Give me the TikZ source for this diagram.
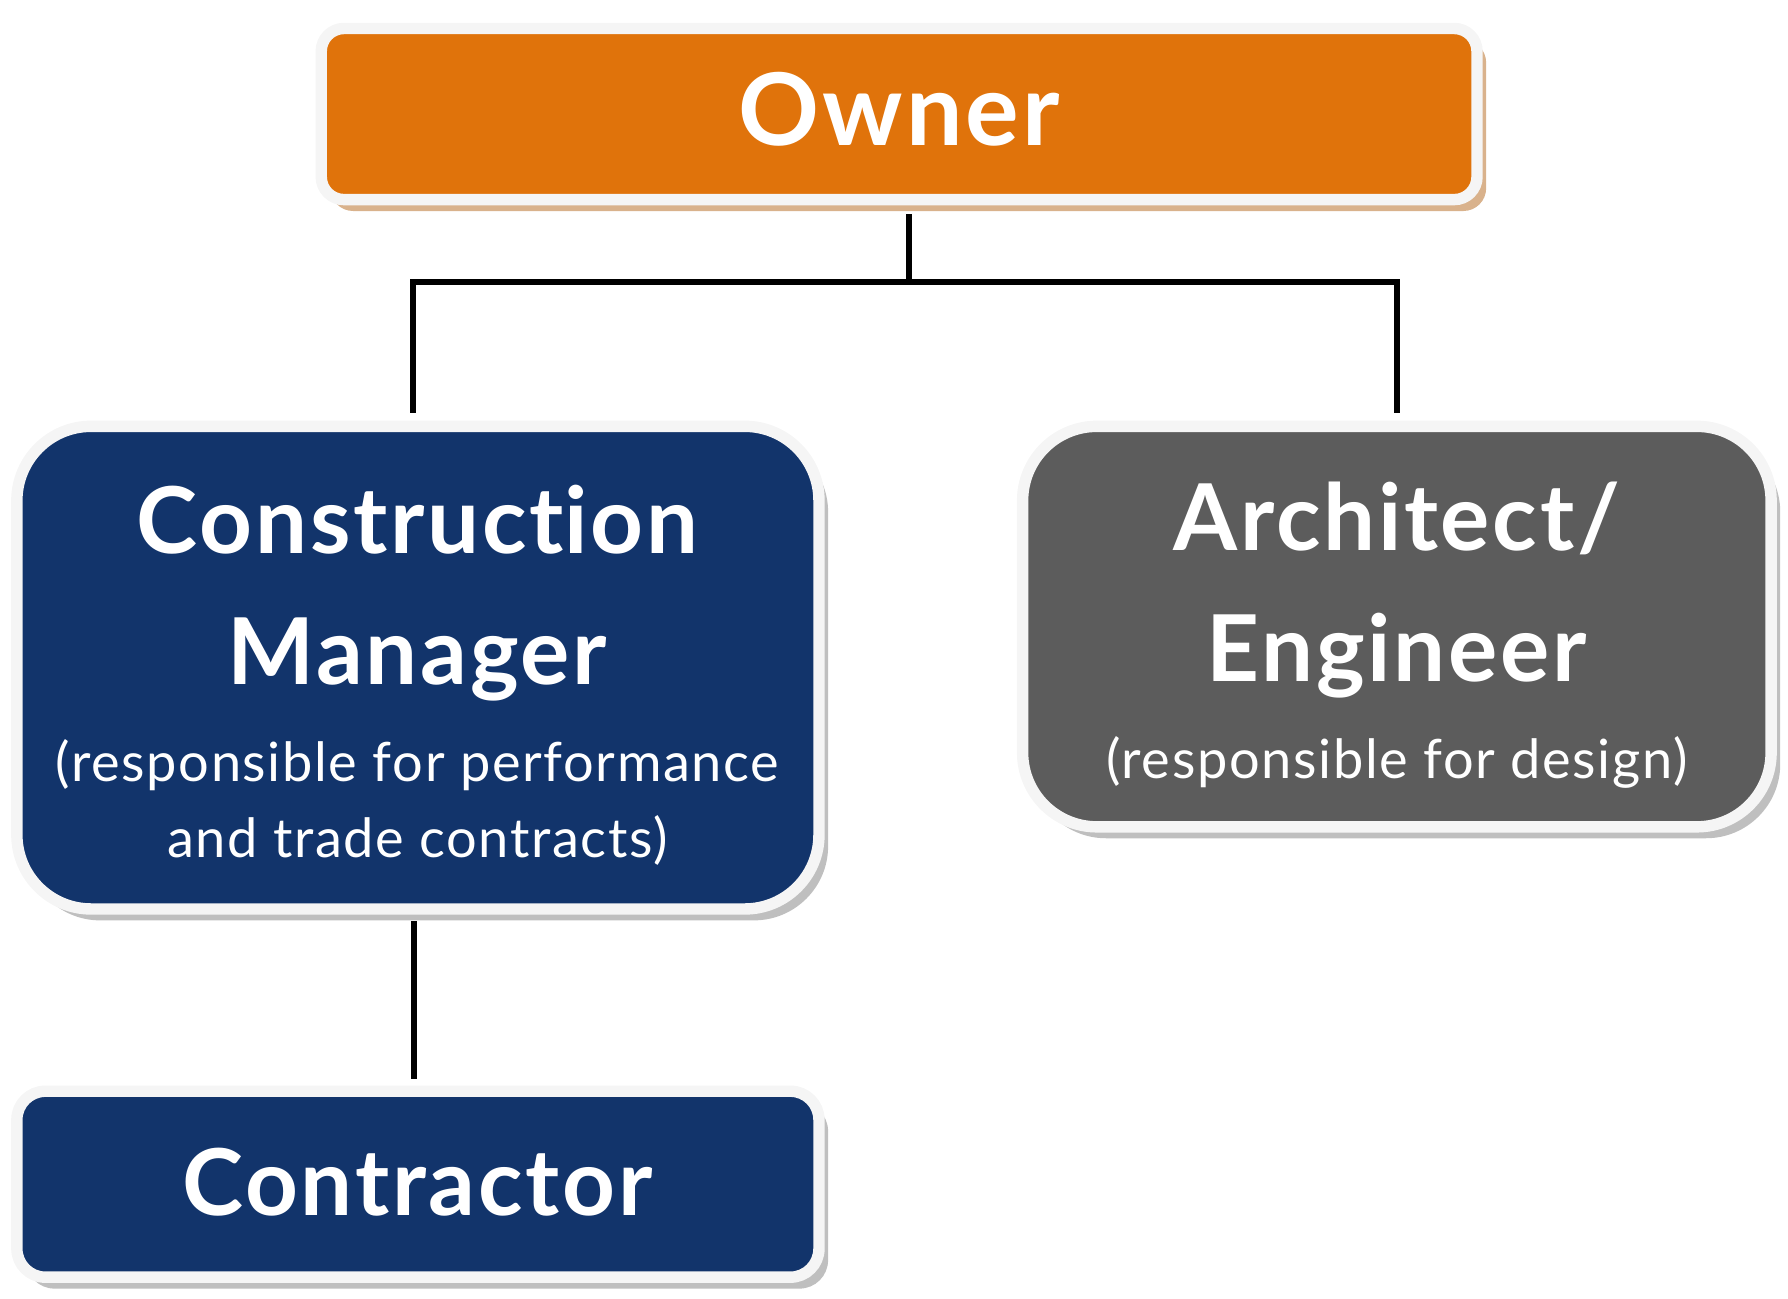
\documentclass[tikz,border=0pt]{standalone}
\usepackage{fontspec}
\setmainfont[LetterSpace=3]{Lato}
\usetikzlibrary{shadows}
\definecolor{ownerc}{HTML}{E0730B}
\definecolor{navy}{HTML}{12346B}
\definecolor{greyc}{HTML}{5C5C5C}
\begin{document}
\begin{tikzpicture}[x=0.01cm,y=-0.01cm,
  box/.style={draw=white!96!black,line width=0.1cm,text=white,align=center,inner sep=0pt},
  big/.style={text=white,anchor=base,font=\fontsize{23}{28}\bfseries\selectfont},
  small/.style={text=white,anchor=base,font=\fontsize{13.5}{16}\selectfont},
  conn/.style={line width=0.05cm,black}]
\useasboundingbox (0,0) rectangle (1568,1139);
\node[box,fill=ownerc,rounded corners=0.2cm,minimum width=10.13cm,minimum height=1.5cm,
  drop shadow={shadow xshift=0.08cm,shadow yshift=-0.1cm,fill=brown!60!white,opacity=1}]
  (owner) at (788.5,100) {};
\node[big,font=\fontsize{25}{30}\bfseries\selectfont] (ownert) at (788.5,128) {Owner};
\node[box,fill=navy,rounded corners=0.65cm,minimum width=7.03cm,minimum height=4.23cm,
  drop shadow={shadow xshift=0.08cm,shadow yshift=-0.1cm,fill=black!25,opacity=1}]
  (cm) at (366.5,585.5) {};
\node[big] (cm1) at (366,485) {Construct\kern0ption};
\node[big] (cm2) at (366,600) {Manager};
\node[small] (cm3) at (366,685) {(responsible for performance};
\node[small] (cm4) at (366,752) {and trade contracts)};
\node[box,fill=greyc,rounded corners=0.65cm,minimum width=6.56cm,minimum height=3.51cm,
  drop shadow={shadow xshift=0.08cm,shadow yshift=-0.1cm,fill=black!25,opacity=1}]
  (ae) at (1225,549.5) {};
\node[big] (ae1) at (1225,483) {Architect/};
\node[big] (ae2) at (1225,598) {Engineer};
\node[small] (ae3) at (1225,683) {(responsible for design)};
\node[box,fill=navy,rounded corners=0.25cm,minimum width=7.03cm,minimum height=1.63cm,
  drop shadow={shadow xshift=0.08cm,shadow yshift=-0.1cm,fill=black!25,opacity=1}]
  (con) at (366.5,1038.5) {};
\node[big] (cont) at (366,1066) {Contractor};
\coordinate (j) at (797,247);
\draw[conn] (owner.south -| j) ++(0,8) -- (j);
\draw[conn] (362,362) |- (j) -| (1225,362);
\draw[conn] (363,808) -- (363,946);
\end{tikzpicture}
\end{document}
